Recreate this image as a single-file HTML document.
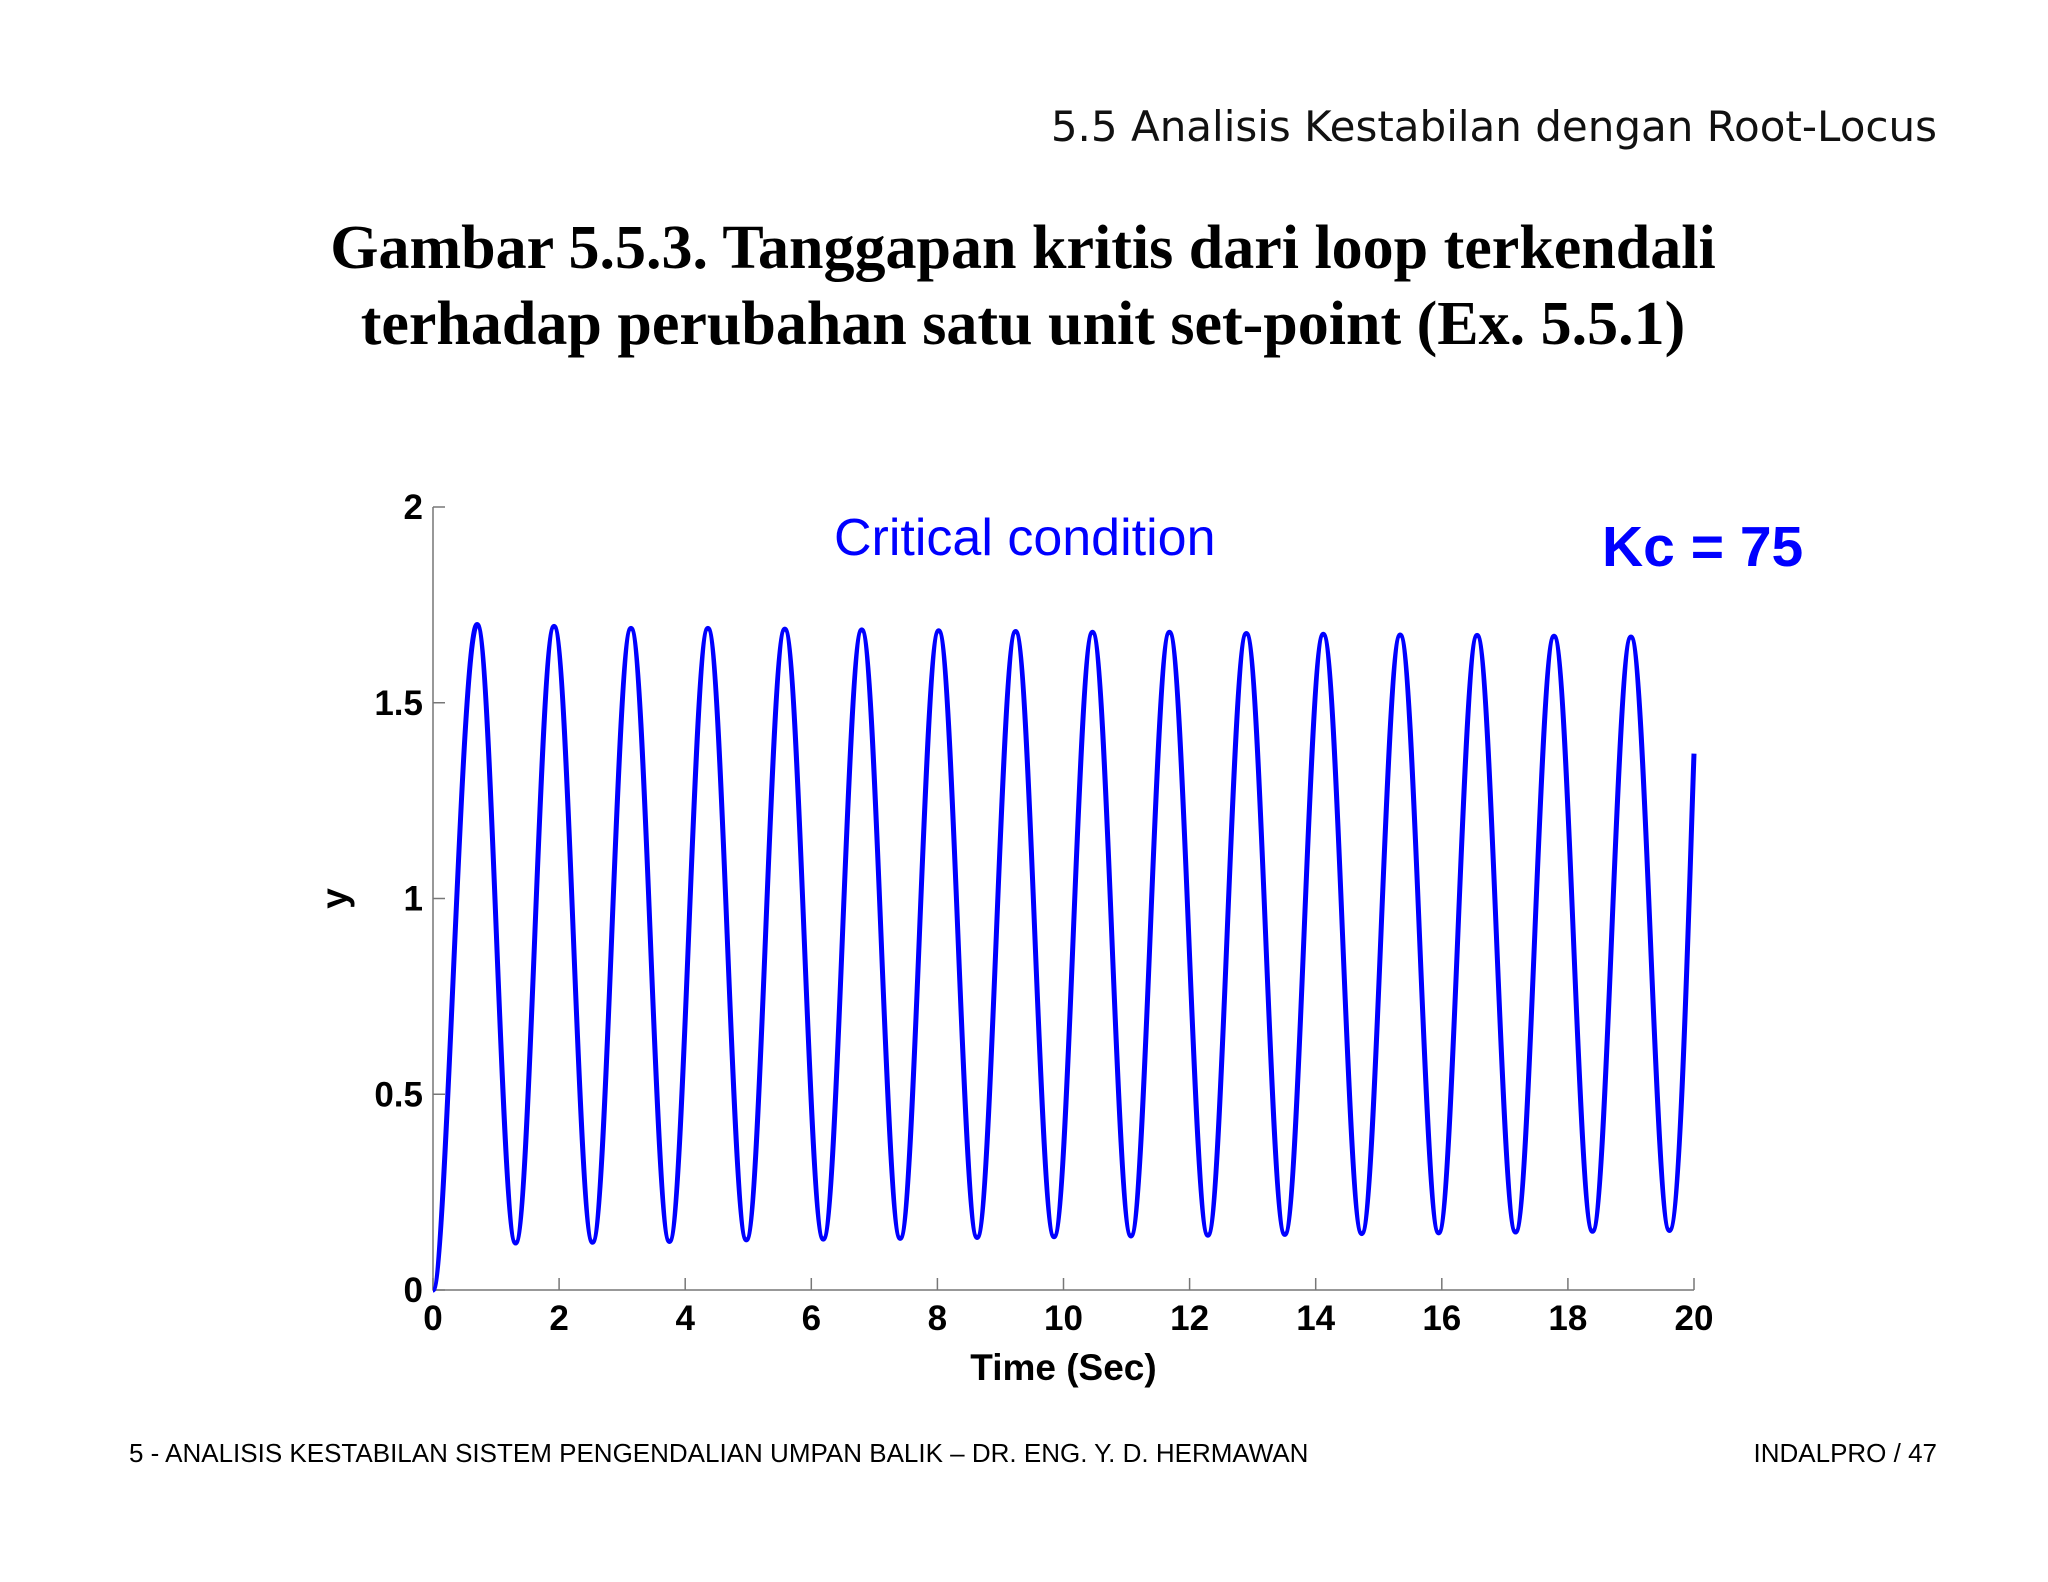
<!DOCTYPE html>
<html><head><meta charset="utf-8"><style>
html,body{margin:0;padding:0;background:#fff;}
svg{display:block;}
</style></head><body>
<svg width="2048" height="1582" viewBox="0 0 2048 1582" xmlns="http://www.w3.org/2000/svg">
<text x="1937" y="141" text-anchor="end" font-family="DejaVu Sans, sans-serif" font-size="42" fill="#111">5.5 Analisis Kestabilan dengan Root-Locus</text>
<text x="1023" y="268" text-anchor="middle" font-family="Liberation Serif, serif" font-weight="bold" font-size="62" fill="#000">Gambar 5.5.3. Tanggapan kritis dari loop terkendali</text>
<text x="1023" y="344" text-anchor="middle" font-family="Liberation Serif, serif" font-weight="bold" font-size="62" fill="#000">terhadap perubahan satu unit set-point (Ex. 5.5.1)</text>
<g id="chart"></g>
<text x="834" y="555" font-family="Liberation Sans, sans-serif" font-size="52" fill="#0000ff">Critical condition</text>
<text x="1602" y="566" font-family="Liberation Sans, sans-serif" font-weight="bold" font-size="57" fill="#0000ff">Kc = 75</text>
<text x="129" y="1462" font-family="Liberation Sans, sans-serif" font-size="26" fill="#000">5 - ANALISIS KESTABILAN SISTEM PENGENDALIAN UMPAN BALIK – DR. ENG. Y. D. HERMAWAN</text>
<text x="1937" y="1462" text-anchor="end" font-family="Liberation Sans, sans-serif" font-size="26" fill="#000">INDALPRO / 47</text>
</svg>
<script>
const xTicks=[0,2,4,6,8,10,12,14,16,18,20];
const yTicks=[0,0.5,1,1.5,2];
const yTickLabels=["0","0.5","1","1.5","2"];
const peakTimes=[0.7,1.92,3.14,4.36,5.58,6.8,8.02,9.24,10.46,11.68,12.9,14.12,15.34,16.56,17.78,19.0];
const peakValues=[1.70,1.695,1.69,1.69,1.688,1.686,1.684,1.682,1.68,1.68,1.677,1.675,1.673,1.672,1.67,1.668];
const troughTimes=[1.31,2.53,3.75,4.97,6.19,7.41,8.63,9.85,11.07,12.29,13.51,14.73,15.95,17.17,18.39,19.61];
const troughValues=[0.12,0.122,0.124,0.128,0.13,0.132,0.134,0.136,0.138,0.14,0.142,0.144,0.146,0.148,0.15,0.152];
const startPoint=[0,0];
const endPoint=[20,1.37];

const NS='http://www.w3.org/2000/svg';
const g=document.getElementById('chart');
const X0=433,X1=1694,Y0=1290,Y1=507;
const sx=t=>X0+(t-0)/(20-0)*(X1-X0);
const sy=v=>Y0-(v-0)/(2-0)*(Y0-Y1);
function mk(tag,attrs){const e=document.createElementNS(NS,tag);for(const k in attrs)e.setAttribute(k,attrs[k]);g.appendChild(e);return e;}

let ax=mk('path',{d:`M${X0} ${Y1}V${Y0}H${X1}`,stroke:'#777',fill:'none','stroke-width':1.5});


xTicks.forEach(t=>{
  const l=mk('line',{x1:sx(t),x2:sx(t),y1:Y0,y2:Y0-12,stroke:'#777','stroke-width':1.5});
  
  
  const tx=mk('text',{x:sx(t),y:Y0+40,'text-anchor':'middle','font-family':'Liberation Sans, sans-serif','font-weight':'bold','font-size':35,fill:'#000'});
  tx.textContent=String(t);
  
  
});
yTicks.forEach((v,i)=>{
  const l=mk('line',{x1:X0,x2:X0+12,y1:sy(v),y2:sy(v),stroke:'#777','stroke-width':1.5});
  
  
  const tx=mk('text',{x:X0-10,y:sy(v)+12,'text-anchor':'end','font-family':'Liberation Sans, sans-serif','font-weight':'bold','font-size':35,fill:'#000'});
  tx.textContent=yTickLabels[i];
  
  
});
const xl=mk('text',{x:(X0+X1)/2,y:1380,'text-anchor':'middle','font-family':'Liberation Sans, sans-serif','font-weight':'bold','font-size':37,fill:'#000'});
xl.textContent='Time (Sec)';


const yl=mk('text',{x:0,y:0,'text-anchor':'middle','font-family':'Liberation Sans, sans-serif','font-weight':'bold','font-size':37,fill:'#000',transform:`translate(347 ${sy(1)}) rotate(-90)`});
yl.textContent='y';



const pts=[];
for(let i=0;i<peakTimes.length;i++){pts.push([peakTimes[i],peakValues[i]]);pts.push([troughTimes[i],troughValues[i]]);}
let d=`M${sx(startPoint[0])} ${sy(startPoint[1])}`;
{const p=pts[0];const dt=p[0]-startPoint[0];
 d+=` C${sx(startPoint[0]+dt*0.3)} ${sy(startPoint[1])} ${sx(p[0]-dt*0.36)} ${sy(p[1])} ${sx(p[0])} ${sy(p[1])}`;}
for(let i=1;i<pts.length;i++){
  const a=pts[i-1],b=pts[i],dt=b[0]-a[0];
  d+=` C${sx(a[0]+dt*0.3642)} ${sy(a[1])} ${sx(b[0]-dt*0.3642)} ${sy(b[1])} ${sx(b[0])} ${sy(b[1])}`;
}
{const a=pts[pts.length-1],dt=endPoint[0]-a[0];
 d+=` C${sx(a[0]+dt*0.45)} ${sy(a[1])} ${sx(endPoint[0]-dt*0.2)} ${sy(endPoint[1]-0.35)} ${sx(endPoint[0])} ${sy(endPoint[1])}`;}
const line=mk('path',{d:d,stroke:'#0000ff','stroke-width':5,fill:'none','stroke-linejoin':'round'});


</script>
</body></html>
